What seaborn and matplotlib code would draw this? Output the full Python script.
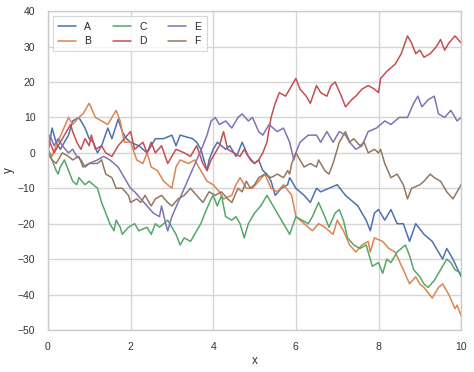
import numpy as np
import pandas as pd
import matplotlib
matplotlib.use("Agg")
import matplotlib.pyplot as plt
import seaborn as sns

names = ["A", "B", "C", "D", "E", "F"]

A = [(0,0),(0.1,7),(0.2,3),(0.3,1),(0.5,5),(0.6,9),(0.75,10),(0.9,7),(1.0,4),(1.1,3),(1.2,0),(1.3,2),
     (1.45,7),(1.55,4),(1.7,9.5),(1.8,6),(1.9,4),(2.0,3),(2.2,2),(2.4,0),(2.6,4),(2.8,4),(3.0,5),(3.1,2),
     (3.2,5),(3.5,4),(3.6,3),(3.7,1),(3.8,-3),(3.85,-5),(3.9,-2),(4.0,1),(4.1,3),(4.3,1),(4.4,2),(4.55,-1),
     (4.6,0),(4.7,3),(4.85,-1),(5.0,-3),(5.1,-2),(5.2,-5),(5.3,-6),(5.4,-8),(5.5,-12),(5.65,-10),(5.8,-9),
     (5.85,-7),(6.0,-10),(6.2,-12),(6.35,-14),(6.5,-10),(6.6,-11),(6.8,-10),(7.0,-9),(7.2,-12),(7.4,-14),
     (7.5,-15),(7.7,-19),(7.8,-22),(7.9,-17),(8.0,-16),(8.15,-19),(8.3,-16),(8.45,-20),(8.6,-20),(8.75,-25),
     (8.9,-20),(9.1,-23),(9.3,-25),(9.55,-30),(9.65,-27),(9.8,-30),(10,-35)]

B = [(0,1),(0.1,-1),(0.2,2),(0.35,6),(0.5,10),(0.6,8),(0.75,10),(0.85,11),(1.0,14),(1.15,10),(1.3,9),
     (1.45,8),(1.55,10),(1.65,12),(1.75,9),(1.85,3),(2.0,3),(2.15,-2),(2.3,-3),(2.4,0),(2.5,-4),(2.65,-5),
     (2.8,-8),(3.0,-10),(3.1,-4),(3.2,-2),(3.4,-3),(3.55,-2),(3.7,-5),(3.85,-8),(4.0,-9),(4.15,-11),
     (4.25,-13),(4.45,-12),(4.55,-9),(4.65,-7),(4.8,-10),(4.95,-10),(5.1,-8),(5.25,-6),(5.4,-10),(5.55,-11),
     (5.7,-9),(5.9,-12),(6.0,-18),(6.2,-20),(6.4,-22),(6.55,-20),(6.7,-21),(6.9,-23),(7.0,-19),(7.15,-22),
     (7.3,-26),(7.45,-28),(7.6,-26),(7.75,-25),(7.8,-28),(7.9,-24),(8.1,-25),(8.25,-27),(8.4,-28),
     (8.6,-33),(8.75,-37),(8.9,-35),(9.0,-37),(9.1,-38),(9.3,-41),(9.45,-38),(9.55,-37),(9.7,-40),
     (9.85,-44),(9.9,-43),(10,-46)]

C = [(0,1),(0.1,-2),(0.2,-5),(0.25,-6),(0.3,-4),(0.4,-2),(0.5,-5),(0.6,-8),(0.7,-9),(0.75,-7),(0.9,-9),
     (1.0,-8),(1.1,-9),(1.2,-10),(1.3,-14),(1.4,-17),(1.5,-20),(1.6,-22),(1.65,-19),(1.75,-21),(1.8,-23),
     (1.95,-21),(2.1,-20),(2.2,-22),(2.4,-21),(2.5,-23),(2.6,-20),(2.7,-21),(2.9,-19),(3.0,-21),(3.1,-23),
     (3.2,-26),(3.3,-24),(3.45,-25),(3.6,-22),(3.7,-20),(3.8,-17),(3.95,-13),(4.0,-12),(4.1,-15),(4.2,-12),
     (4.3,-18),(4.45,-19),(4.55,-18),(4.65,-20),(4.75,-24),(4.85,-20),(5.0,-17),(5.15,-15),(5.3,-12),
     (5.45,-15),(5.6,-18),(5.75,-21),(5.85,-23),(6.0,-18),(6.15,-19),(6.3,-20),(6.4,-18),(6.55,-14),
     (6.7,-18),(6.8,-21),(6.95,-17),(7.05,-16),(7.15,-19),(7.25,-24),(7.4,-26),(7.55,-27),(7.7,-26),
     (7.85,-32),(8.0,-31),(8.1,-34),(8.2,-30),(8.3,-31),(8.45,-28),(8.55,-27),(8.65,-26),(8.75,-29),
     (8.85,-33),(9.0,-35),(9.1,-37),(9.2,-38),(9.35,-36),(9.5,-33),(9.65,-30),(9.75,-31),(9.85,-33),(10,-34)]

D = [(0,1),(0.05,3),(0.15,0),(0.3,3),(0.4,5),(0.55,8),(0.6,6),(0.7,3),(0.8,1),(0.9,4),(1.0,2),(1.05,5),
     (1.15,1),(1.3,2),(1.4,0),(1.55,-1),(1.7,2),(1.85,4),(2.0,6),(2.1,1),(2.3,3),(2.4,0),(2.5,3),(2.6,0),
     (2.75,2),(2.9,-3),(3.0,-1),(3.1,1),(3.3,0),(3.45,-1),(3.6,2),(3.75,-3),(3.85,-5),(3.95,-2),(4.05,0),
     (4.15,2),(4.25,6),(4.35,1),(4.5,0),(4.65,-1),(4.75,1),(4.9,-2),(5.0,-3),(5.1,-2),(5.2,0),(5.3,3),
     (5.4,10),(5.5,14),(5.6,17),(5.75,16),(5.85,18),(6.0,21),(6.1,18),(6.25,16),(6.35,14),(6.5,19),
     (6.6,17),(6.75,16),(6.85,19),(6.95,20),(7.1,16),(7.2,13),(7.35,15),(7.45,16),(7.6,18),(7.75,19),
     (7.9,18),(8.0,17),(8.05,21),(8.2,23),(8.4,25),(8.55,28),(8.7,33),(8.8,31),(8.9,28),(9.0,29),(9.1,27),
     (9.25,28),(9.4,30),(9.5,32),(9.6,29),(9.7,31),(9.85,33),(10,31)]

E = [(0,1),(0.05,5),(0.15,2),(0.25,4),(0.35,2),(0.5,0),(0.6,1),(0.7,-1),(0.8,-2),(0.9,-4),(1.0,-3),
     (1.2,-2),(1.35,-1),(1.5,-2),(1.6,-3),(1.7,-4),(1.85,-7),(2.0,-10),(2.1,-11),(2.25,-13),(2.4,-15),
     (2.55,-17),(2.7,-18),(2.75,-15),(2.85,-20),(2.9,-22),(3.0,-18),(3.15,-14),(3.3,-10),(3.45,-6),
     (3.6,-2),(3.75,2),(3.85,5),(3.95,9),(4.05,10),(4.15,8),(4.3,9),(4.45,7),(4.6,10),(4.7,11),(4.85,9),
     (4.95,10),(5.1,6),(5.2,5),(5.35,8),(5.55,6),(5.7,7),(5.85,3),(5.95,-2),(6.0,0),(6.1,3),(6.3,5),
     (6.5,5),(6.6,3),(6.75,6),(6.9,3),(7.05,6),(7.2,5),(7.3,3),(7.45,1),(7.6,2),(7.75,6),(7.95,7),
     (8.15,9),(8.3,8),(8.4,9),(8.5,10),(8.7,10),(8.85,14),(8.95,16),(9.05,13),(9.2,15),(9.35,16),
     (9.45,11),(9.6,10),(9.75,12),(9.9,9),(10,10)]

F = [(0,0),(0.1,-2),(0.2,-3),(0.35,0),(0.5,-1),(0.6,-2),(0.75,-1),(0.85,-4),(1.0,-3),(1.2,-3),(1.3,-2),
     (1.4,-6),(1.55,-7),(1.65,-10),(1.8,-10),(1.95,-12),(2.0,-14),(2.15,-13),(2.25,-14),(2.35,-12),
     (2.5,-15),(2.6,-13),(2.75,-12),(2.9,-14),(3.0,-15),(3.15,-13),(3.3,-12),(3.45,-10),(3.6,-12),
     (3.75,-14),(3.9,-11),(4.05,-12),(4.2,-11),(4.35,-13),(4.45,-14),(4.6,-10),(4.7,-11),(4.8,-8),
     (4.9,-10),(5.0,-9),(5.1,-7),(5.25,-6),(5.4,-7),(5.55,-6),(5.7,-7),(5.8,-5),(5.85,-6),(5.9,-3),
     (6.0,0),(6.1,-2),(6.2,-4),(6.35,-3),(6.5,-4),(6.55,-2),(6.7,-5),(6.8,-6),(6.9,-3),(6.95,-1),
     (7.05,3),(7.2,6),(7.3,3),(7.4,4),(7.55,2),(7.65,3),(7.75,0),(7.9,1),(8.0,0),(8.05,1),(8.15,-3),
     (8.3,-7),(8.45,-6),(8.6,-9),(8.7,-13),(8.8,-10),(9.0,-9),(9.1,-8),(9.25,-6),(9.35,-7),(9.5,-8),
     (9.65,-11),(9.8,-13),(9.9,-11),(10,-9)]

series = [A, B, C, D, E, F]

rows = []
for name, pts in zip(names, series):
    for x, y in pts:
        rows.append({"x": x, "y": y, "series": name})
df = pd.DataFrame(rows)

sns.set_theme(style="whitegrid", palette="deep")
plt.rcParams['font.family'] = ['Liberation Sans', 'DejaVu Sans']
plt.rcParams['axes.edgecolor'] = '#cccccc'
plt.rcParams['grid.color'] = '#d5d5d5'

fig = plt.figure(figsize=(4.74, 3.72), dpi=100)
ax = fig.add_axes([0.101, 0.113, 0.872, 0.857])
sns.lineplot(data=df, x="x", y="y", hue="series", ax=ax, linewidth=1.1,
             estimator=None, sort=False)
ax.set_xlim(0, 10)
ax.set_ylim(-50, 40)
ax.set_xticks([0, 2, 4, 6, 8, 10])
ax.set_yticks(list(range(-50, 41, 10)))
ax.tick_params(labelsize=7.5, colors='#333333', pad=3)
ax.set_xlabel("x", fontsize=8.5, color='#333333', labelpad=2)
ax.set_ylabel("y", fontsize=8.5, color='#333333', labelpad=2)
leg = ax.legend(loc="upper left", ncol=3, fontsize=7.5, frameon=True, title=None,
                handlelength=1.7, handletextpad=0.8, columnspacing=2.1,
                borderpad=0.5, labelspacing=0.45, fancybox=False)
leg.get_frame().set_edgecolor('#cccccc')
leg.get_frame().set_linewidth(0.8)
for s in ax.spines.values():
    s.set_linewidth(1.0)
fig.savefig("out.png", dpi=100)
